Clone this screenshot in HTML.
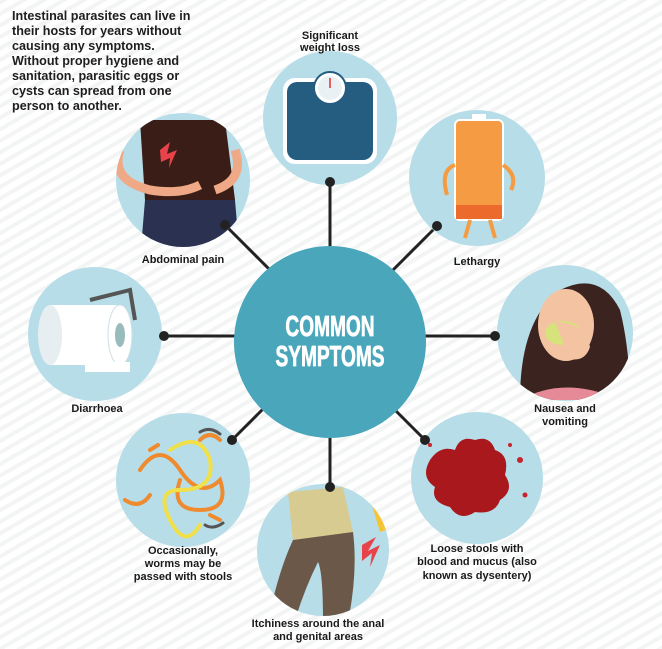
<!DOCTYPE html>
<html><head><meta charset="utf-8"><style>
html,body{margin:0;padding:0;width:662px;height:649px;overflow:hidden;background:#fff}
svg{display:block}
.t{font-family:"Liberation Sans",sans-serif;font-weight:bold;fill:#1e1e1e}
.l{font-family:"Liberation Sans",sans-serif;font-weight:bold;font-size:11px;fill:#1a1a1a;text-anchor:middle}
</style></head><body>
<svg width="662" height="649" viewBox="0 0 662 649">
<defs>
<pattern id="st" width="10" height="10" patternUnits="userSpaceOnUse" patternTransform="rotate(-30)">
<rect width="10" height="10" fill="#ffffff"/><rect width="10" height="4" fill="#f3f4f4"/>
</pattern>
<clipPath id="c1"><circle cx="330" cy="118" r="67"/></clipPath>
<clipPath id="c2"><circle cx="477" cy="178" r="68"/></clipPath>
<clipPath id="c3"><circle cx="565" cy="333" r="68"/></clipPath>
<clipPath id="c4"><circle cx="477" cy="478" r="66"/></clipPath>
<clipPath id="c5"><circle cx="323" cy="550" r="66"/></clipPath>
<clipPath id="c6"><circle cx="183" cy="480" r="67"/></clipPath>
<clipPath id="c7"><circle cx="95" cy="334" r="67"/></clipPath>
<clipPath id="c8"><circle cx="183" cy="180" r="67"/></clipPath>
</defs>
<rect width="662" height="649" fill="url(#st)"/>

<g stroke="#222" stroke-width="3">
<line x1="330" y1="182" x2="330" y2="250"/>
<line x1="164" y1="336" x2="240" y2="336"/>
<line x1="495" y1="336" x2="420" y2="336"/>
<line x1="225" y1="225" x2="270" y2="270"/>
<line x1="437" y1="226" x2="392" y2="271"/>
<line x1="232" y1="440" x2="265" y2="407"/>
<line x1="425" y1="440" x2="393" y2="408"/>
<line x1="330" y1="487" x2="330" y2="432"/>
</g>

<g fill="#b6dde8">
<circle cx="330" cy="118" r="67"/><circle cx="477" cy="178" r="68"/>
<circle cx="565" cy="333" r="68"/><circle cx="477" cy="478" r="66"/>
<circle cx="323" cy="550" r="66"/><circle cx="183" cy="480" r="67"/>
<circle cx="95" cy="334" r="67"/><circle cx="183" cy="180" r="67"/>
</g>

<g clip-path="url(#c1)">
<rect x="283" y="78" width="94" height="86" rx="12" fill="#fff"/>
<rect x="287" y="82" width="86" height="78" rx="10" fill="#245d80"/>
<circle cx="330" cy="88" r="16" fill="#fff" stroke="#245d80" stroke-width="2"/>
<circle cx="330" cy="88" r="12" fill="#e9f1f4"/>
<line x1="330" y1="88" x2="330" y2="78" stroke="#d33" stroke-width="1.5"/>
</g>
<g clip-path="url(#c2)">
<rect x="455" y="120" width="48" height="100" rx="5" fill="#f59b43" stroke="#fff" stroke-width="2"/>
<rect x="456" y="205" width="46" height="14" fill="#ec6a2c"/>
<rect x="472" y="114" width="14" height="6" fill="#fff"/>
<path d="M455 165 q-15 5 -8 30" stroke="#f59b43" stroke-width="4" fill="none"/>
<path d="M503 165 q15 10 8 25" stroke="#f59b43" stroke-width="4" fill="none"/>
<path d="M470 220 l-5 18 M490 220 l5 18" stroke="#f59b43" stroke-width="4"/>
</g>
<g clip-path="url(#c3)">
<path d="M520 400 q0-80 40-110 q40-20 60 20 q10 40 10 90z" fill="#3b2320"/>
<ellipse cx="566" cy="325" rx="28" ry="36" fill="#f4c3a2"/>
<path d="M520 400 q45-25 100 0z" fill="#e58a96"/>
<ellipse cx="563" cy="333" rx="18" ry="12" fill="#d6e27a"/>
<path d="M555 322 q30 0 35 25 q-5 15 -20 12z" fill="#f4c3a2"/>
</g>
<g clip-path="url(#c4)">
<path d="M430 460 q10-15 25-10 q5-15 20-10 q15-5 20 10 q15 5 10 25 q10 15 -5 25 q-5 15 -25 12 q-15 10 -25 -5 q-20 -5 -15 -20 q-15 -10 -5 -27z" fill="#a8181c"/>
<circle cx="520" cy="460" r="3" fill="#c8232a"/><circle cx="510" cy="445" r="2" fill="#c8232a"/>
<circle cx="525" cy="495" r="2.5" fill="#c8232a"/><circle cx="430" cy="445" r="2" fill="#c8232a"/>
</g>
<g clip-path="url(#c5)">
<path d="M288 492 l55 -5 l10 45 l-60 10z" fill="#d8cb92"/>
<path d="M293 540 l60 -8 q5 40 -5 90 l-25 0 q0-50 -5-60 q-15 30 -25 65 l-25 -5 q10 -50 25 -82z" fill="#6b5849"/>
<path d="M372 505 l12 -8 l10 30 l-14 5z" fill="#f6c433"/>
<path d="M362 545 l14 -8 l-8 14 l12 -6 l-10 22 l2 -14 l-10 8z" fill="#e8434b"/>
</g>
<g clip-path="url(#c6)" fill="none" stroke-width="4" stroke-linecap="round">
<path d="M140 470 q20 -30 40 0 t40 10 q10 30 -20 30 q-30 0 -20 -30" stroke="#ef8a2e"/>
<path d="M170 450 q30 -20 40 10 q5 30 -30 30 q-25 0 -10 30 t30 5" stroke="#f1e04a"/>
<path d="M125 500 q15 10 25 -5 M200 440 q10 -10 20 0 M150 450 l8 -5 M210 515 l10 5" stroke="#ef8a2e"/>
<path d="M200 432 q10 -6 20 2 M205 525 q8 5 18 -2" stroke="#555" stroke-width="3"/>
</g>
<g clip-path="url(#c7)">
<rect x="50" y="305" width="70" height="60" fill="#fff"/>
<ellipse cx="50" cy="335" rx="12" ry="30" fill="#e6eef1"/>
<ellipse cx="120" cy="335" rx="12" ry="30" fill="#fff" stroke="#cfdfe5"/>
<ellipse cx="120" cy="335" rx="5" ry="12" fill="#9bb"/>
<path d="M90 300 l40 -10 l5 30" stroke="#555" stroke-width="4" fill="none"/>
<rect x="85" y="362" width="45" height="10" fill="#fff"/>
</g>
<g clip-path="url(#c8)">
<path d="M140 120 l85 0 l10 80 l-90 0z" fill="#3a1d16"/>
<path d="M145 200 l90 0 l5 60 l-100 0z" fill="#2b3150"/>
<path d="M120 150 q-10 30 30 40 q30 5 50 -5 M235 150 q10 30 -20 40" stroke="#f0a987" stroke-width="9" fill="none"/>
<path d="M160 150 l10 -8 l-3 12 l10 -4 l-8 18 l1 -10 l-9 4z" fill="#e8434b"/>
</g>

<circle cx="330" cy="342" r="96" fill="#49a6bb"/>
<g font-family="Liberation Sans,sans-serif" font-weight="bold" font-size="29" fill="#fff" stroke="#fff" stroke-width="0.8" text-anchor="middle">
<text x="0" y="0" transform="translate(330 336) scale(0.66 1)">COMMON</text>
<text x="0" y="0" transform="translate(330 366) scale(0.66 1)">SYMPTOMS</text>
</g>

<g fill="#222">
<circle cx="330" cy="182" r="5"/><circle cx="164" cy="336" r="5"/><circle cx="495" cy="336" r="5"/>
<circle cx="225" cy="225" r="5"/><circle cx="437" cy="226" r="5"/><circle cx="232" cy="440" r="5"/>
<circle cx="425" cy="440" r="5"/><circle cx="330" cy="487" r="5"/>
</g>

<g class="t" font-size="12.6">
<text x="12" y="20">Intestinal parasites can live in</text>
<text x="12" y="35">their hosts for years without</text>
<text x="12" y="50">causing any symptoms.</text>
<text x="12" y="65">Without proper hygiene and</text>
<text x="12" y="80">sanitation, parasitic eggs or</text>
<text x="12" y="95">cysts can spread from one</text>
<text x="12" y="110">person to another.</text>
</g>

<text class="l" x="330" y="39">Significant</text>
<text class="l" x="330" y="51">weight loss</text>
<text class="l" x="477" y="265">Lethargy</text>
<text class="l" x="565" y="412">Nausea and</text>
<text class="l" x="565" y="425">vomiting</text>
<text class="l" x="477" y="552">Loose stools with</text>
<text class="l" x="477" y="565">blood and mucus (also</text>
<text class="l" x="477" y="579">known as dysentery)</text>
<text class="l" x="318" y="627">Itchiness around the anal</text>
<text class="l" x="318" y="640">and genital areas</text>
<text class="l" x="183" y="554">Occasionally,</text>
<text class="l" x="183" y="567">worms may be</text>
<text class="l" x="183" y="580">passed with stools</text>
<text class="l" x="97" y="412">Diarrhoea</text>
<text class="l" x="183" y="263">Abdominal pain</text>
</svg>
</body></html>
